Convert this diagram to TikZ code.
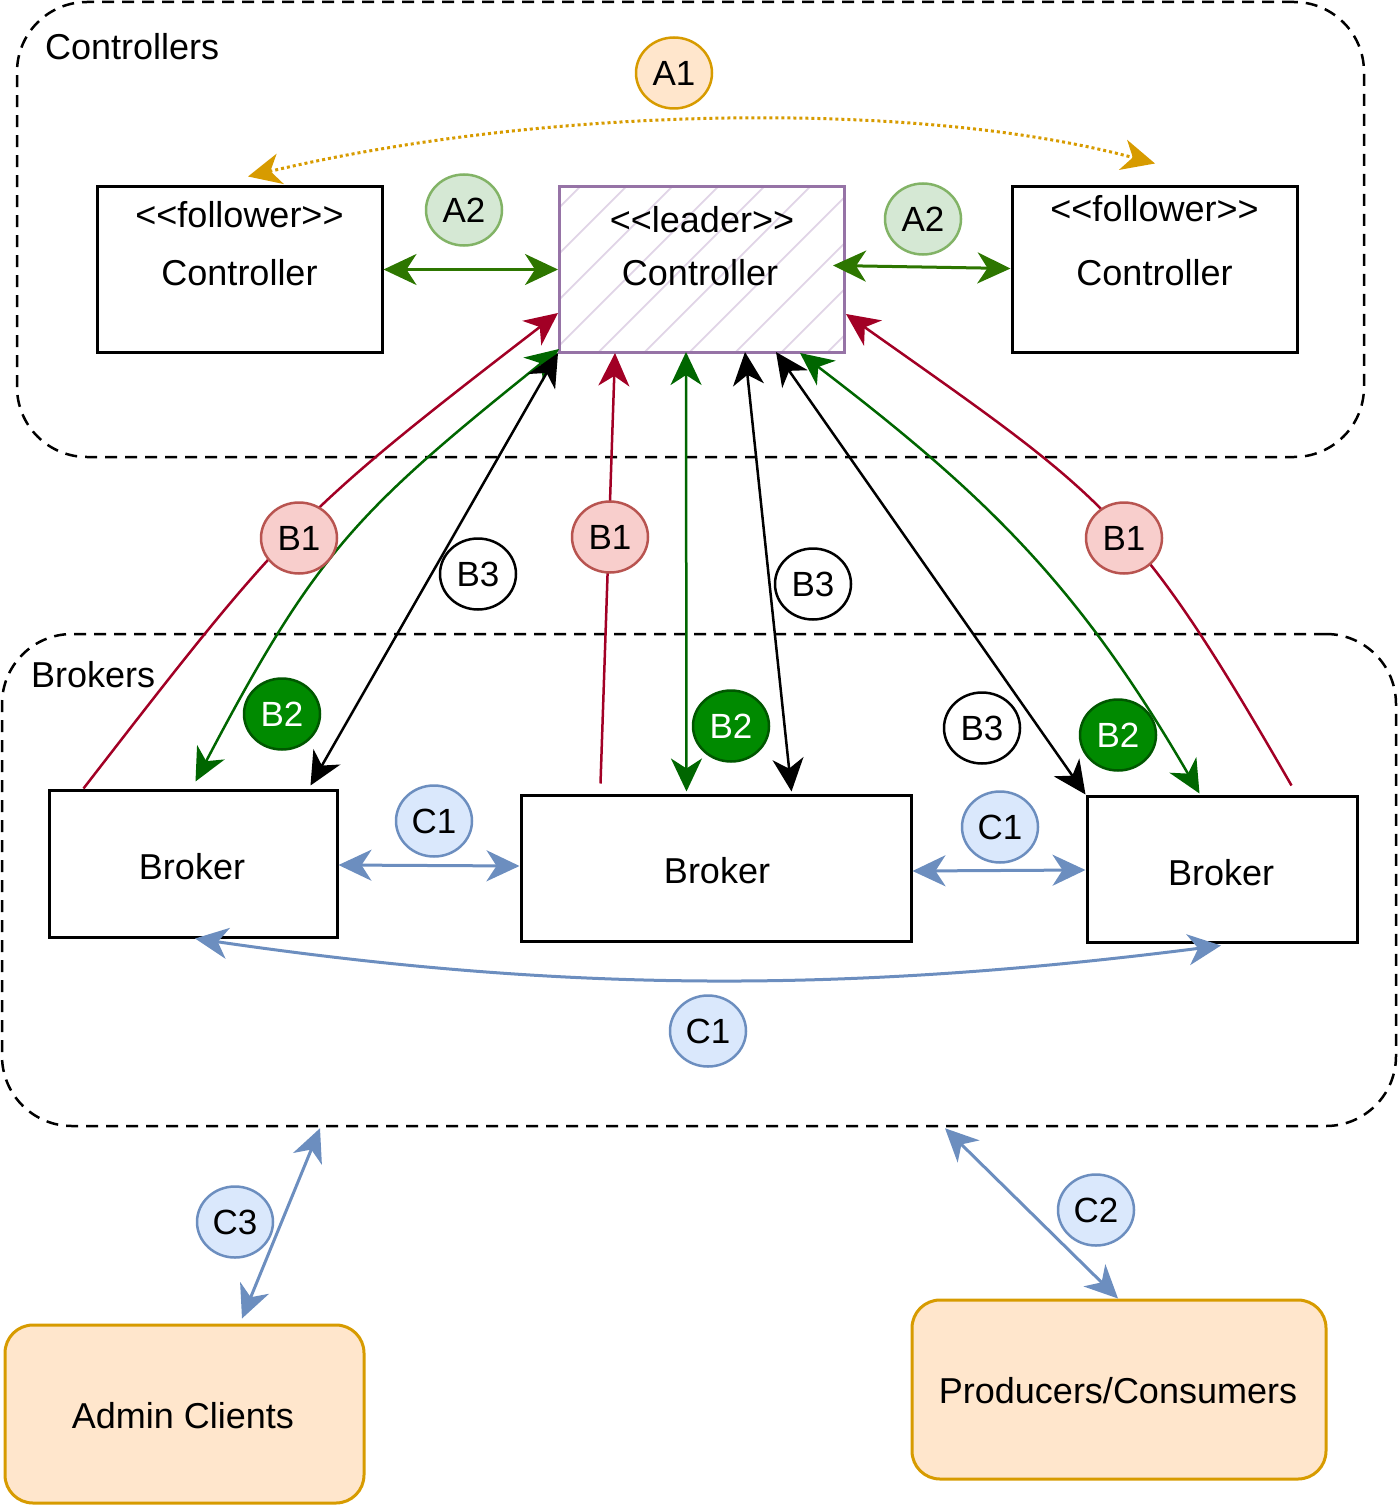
\documentclass[tikz,border=0pt]{standalone}
\usepackage{fontspec}
\setmainfont{Liberation Sans}
\usetikzlibrary{arrows.meta,patterns.meta,calc,shapes.geometric}
\definecolor{orS}{HTML}{D79B00}
\definecolor{orF}{HTML}{FFE6CC}
\definecolor{grS}{HTML}{82B366}
\definecolor{grF}{HTML}{D5E8D4}
\definecolor{rdS}{HTML}{B85450}
\definecolor{rdF}{HTML}{F8CECC}
\definecolor{blS}{HTML}{6C8EBF}
\definecolor{blF}{HTML}{DAE8FC}
\definecolor{dgF}{HTML}{008A00}
\definecolor{dgS}{HTML}{005700}
\definecolor{puS}{HTML}{9673A6}
\definecolor{puH}{HTML}{E1D5E7}
\definecolor{crim}{HTML}{A20025}
\definecolor{lgreen}{HTML}{2D7600}
\definecolor{bgreen}{HTML}{006600}
\newcommand\myfs{\fontsize{36}{43}\selectfont}
\newcommand\labfs{\fontsize{35}{42}\selectfont}
\begin{document}
\begin{tikzpicture}[x=1pt,y=-1pt,
  >={Stealth[length=33pt,width=31pt,inset=10pt]},
  grp/.style={draw=black, line width=2.5pt, dash pattern=on 12pt off 8pt, rounded corners=70pt, inner sep=0},
  box/.style={draw=black, line width=3pt, inner sep=0},
  client/.style={draw=orS, fill=orF, line width=3pt, rounded corners=28pt, inner sep=0, font=\myfs},
  txt/.style={inner sep=0, font=\myfs},
  lab/.style={ellipse, minimum width=76pt, minimum height=71pt, inner sep=0, line width=2.5pt, font=\labfs},
  labA/.style={lab, draw=orS, fill=orF},
  labG/.style={lab, draw=grS, fill=grF},
  labR/.style={lab, draw=rdS, fill=rdF},
  labW/.style={lab, draw=black, fill=white},
  labD/.style={lab, draw=dgS, fill=dgF, text=white},
  labB/.style={lab, draw=blS, fill=blF},
  cA1/.style={draw=orS, line width=3pt, dash pattern=on 3pt off 3pt},
  cA2/.style={draw=lgreen, line width=3pt},
  cB1/.style={draw=crim, line width=2.5pt},
  cB2/.style={draw=bgreen, line width=2.5pt},
  cB3/.style={draw=black, line width=2.5pt},
  cC/.style={draw=blS, line width=3pt}
]
\useasboundingbox (0,0) rectangle (1398,1506);

% groups
\node[grp, minimum width=1347pt, minimum height=455pt] (gC) at (690.5,229.5) {};
\node[grp, minimum width=1394pt, minimum height=492pt] (gB) at (699,880) {};
\node[txt, anchor=base west] (gCt) at (45,60) {Controllers};
\node[txt, anchor=base west] (gBt) at (31,687) {Brokers};

% controllers
\node[box, minimum width=285pt, minimum height=165pt] (fl) at (239.5,269.5) {};
\node[draw=puS, line width=3pt, inner sep=0, minimum width=285pt, minimum height=165pt,
      preaction={fill=white}, pattern={Lines[angle=45,distance=33pt,line width=2pt]}, pattern color=puH] (lead) at (701.5,269.5) {};
\node[box, minimum width=285pt, minimum height=165pt] (fr) at (1154.5,269.5) {};
\node[txt, anchor=base] (flt1) at (239.5,228) {<\kern0pt<follower>\kern0pt>};
\node[txt, anchor=base] (flt2) at (239.5,285) {Controller};
\node[txt, anchor=base] (ldt1) at (702,233) {<\kern0pt<leader>\kern0pt>};
\node[txt, anchor=base] (ldt2) at (700,285) {Controller};
\node[txt, anchor=base] (frt1) at (1154.5,222) {<\kern0pt<follower>\kern0pt>};
\node[txt, anchor=base] (frt2) at (1154.5,285) {Controller};

% brokers
\node[box, minimum width=288pt, minimum height=147pt] (bL) at (193,863.5) {};
\node[box, minimum width=390pt, minimum height=146pt] (bM) at (716,868) {};
\node[box, minimum width=270pt, minimum height=146pt] (bR) at (1222,869) {};
\node[txt, anchor=base] (bLt) at (192,879) {Broker};
\node[txt, anchor=base] (bMt) at (717,883) {Broker};
\node[txt, anchor=base] (bRt) at (1221,885) {Broker};

% clients
\node[client, minimum width=359pt, minimum height=178pt] (admin) at (184.5,1414) {};
\node[client, minimum width=414pt, minimum height=179pt] (prod) at (1119,1389.5) {};
\node[txt, anchor=base] (admint) at (183,1428) {Admin Clients};
\node[txt, anchor=base] (prodt) at (1118,1403) {Producers/Consumers};

% A connectors
\draw[cA1, <->] ($(fl.north)+(8.5,-9)$) .. controls (550,105) and (920,100) .. ($(fr.north)+(0.5,-22)$);
\draw[cA2, <->] (fl.east) -- (lead.west);
\draw[cA2, <->] ($(lead.east)+(-12,-4)$) -- ($(fr.west)+(0,-1)$);

% B1
\draw[cB1, ->] ($(bL.north west)+(36,0)$) .. controls (285,528) and (297,514) .. ($(lead.south west)+(0,-40)$);
\draw[cB1, ->] ($(bM.north west)+(81,-10)$) -- ($(lead.south west)+(57,0)$);
\draw[cB1, ->] ($(bR.north west)+(206,-9)$) .. controls (1133,510) and (1106,498) .. ($(lead.south east)+(1,-39)$);
% B2
\draw[cB2, <->] ($(bL.north west)+(148,-7)$) .. controls (316,552) and (357,511) .. ($(lead.south west)+(1,-4)$);
\draw[cB2, <->] ($(bM.north west)+(167,-2)$) -- ($(lead.south west)+(128,-1)$);
\draw[cB2, <->] ($(bR.north west)+(114,-1)$) .. controls (1080,588) and (990,498) .. ($(lead.south east)+(-45,0)$);
% B3
\draw[cB3, <->] ($(bL.north east)+(-28,-3)$) -- (lead.south west);
\draw[cB3, <->] ($(bM.north west)+(272,-2)$) -- ($(lead.south west)+(187,-1)$);
\draw[cB3, <->] (bR.north west) -- ($(lead.south east)+(-69,-1)$);

% C
\draw[cC, <->] ($(bL.east)+(0,1.5)$) -- ($(bM.west)+(0,-2)$);
\draw[cC, <->] ($(bM.east)+(0,3)$) -- ($(bR.west)+(0,1)$);
\draw[cC, <->] ($(bL.south)+(2,0)$) .. controls (568,993) and (848,993) .. ($(bR.south)+(-1,2)$);
\draw[cC, <->] ($(admin.north)+(57.5,-5)$) -- ($(gB.south)+(-379,1)$);
\draw[cC, <->] ($(prod.north)+(-1,0)$) -- ($(gB.south)+(246,1)$);

% labels
\node[labA] (a1) at (674,73) {A1};
\node[labG] (a2l) at (464,210) {A2};
\node[labG] (a2r) at (923,219) {A2};
\node[labR] (b1l) at (299,538) {B1};
\node[labR] (b1m) at (610,537) {B1};
\node[labR] (b1r) at (1124,538) {B1};
\node[labW] (b3l) at (478,574) {B3};
\node[labW] (b3m) at (813,584) {B3};
\node[labW] (b3r) at (982,728) {B3};
\node[labD] (b2l) at (282,714) {B2};
\node[labD] (b2m) at (731,726) {B2};
\node[labD] (b2r) at (1118,735) {B2};
\node[labB] (c1l) at (434,821) {C1};
\node[labB] (c1r) at (1000,827) {C1};
\node[labB] (c1b) at (708,1031) {C1};
\node[labB] (c3) at (235,1222) {C3};
\node[labB] (c2) at (1096,1210) {C2};
\end{tikzpicture}
\end{document}
